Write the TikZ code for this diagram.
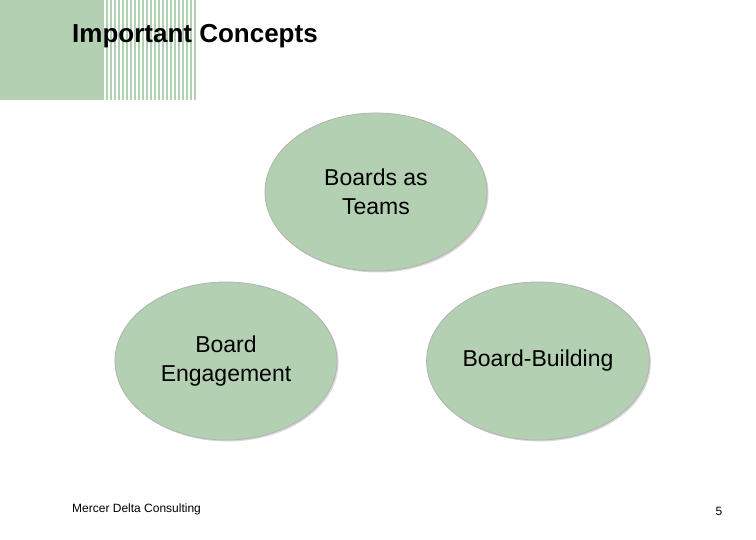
\documentclass[tikz,border=0pt]{standalone}
\usepackage{fontspec}
\setmainfont{Liberation Sans}
\begin{document}
\begin{tikzpicture}[x=1pt,y=-1pt,
  bubble/.style={ellipse,draw=gray!60,line width=0.8pt,fill=green1,minimum width=222pt,minimum height=158pt,align=center,font=\fontsize{23}{29}\selectfont,
    drop shadow={shadow xshift=1.5pt,shadow yshift=-1.5pt,fill=gray!60}}]
\usetikzlibrary{shapes.geometric,shadows}
\definecolor{green1}{RGB}{179,208,179}
\useasboundingbox[fill=white] (0,0) rectangle (756,540);
\fill[green1] (0,0) rectangle (102,100);
\foreach \i in {0,...,23}{\fill[green1] (102+\i*4,0) rectangle (104.3+\i*4,100);}
\node[anchor=west,font=\bfseries\fontsize{26}{30}\selectfont,inner sep=0pt] (title) at (72,36) {Important Concepts};
\node[bubble] (teams) at (376,192) {Boards as\\Teams};
\node[bubble] (eng) at (226,361) {Board\\Engagement};
\node[bubble] (build) at (538,361) {Board-Building};
\node[anchor=west,font=\fontsize{12}{14}\selectfont,inner sep=0pt] (foot) at (72,509) {Mercer Delta Consulting};
\node[font=\fontsize{12}{14}\selectfont] (pg) at (719,511) {5};
\end{tikzpicture}
\end{document}
